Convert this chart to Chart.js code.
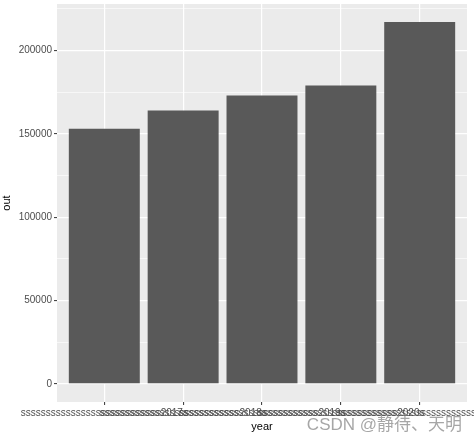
<!DOCTYPE html>
<html lang="en">
<head>
    <meta charset="UTF-8">
    <title>out by year</title>
    <script src="https://cdn.jsdelivr.net/npm/chart.js"></script>
    <style>
        body { margin: 0; background: #ffffff; }
        .chart-container { width: 474px; height: 440px; position: relative; }
    </style>
</head>
<body>
    <div class="chart-container">
        <canvas id="outChart"></canvas>
    </div>

    <script>
        // Data
        const years = ['2017', '2018', '2019', '2020', '2021'];
        const outValues = [153000, 164000, 173000, 179000, 217000];
        const tickLabels = years.map(y => 'ssssssssssssssssssssssssssss' + y + 's');
        const yTickValues = [0, 25000, 50000, 75000, 100000, 125000, 150000, 175000, 200000, 225000];

        const yMax = Math.max(...outValues);
        const yPad = yMax * 0.05;

        // grey ggplot panel behind the grid
        const panelBackground = {
            id: 'panelBackground',
            beforeDraw(chart) {
                const {ctx, chartArea} = chart;
                ctx.save();
                ctx.fillStyle = '#EBEBEB';
                ctx.fillRect(chartArea.left, chartArea.top, chartArea.right - chartArea.left, chartArea.bottom - chartArea.top);
                ctx.restore();
            }
        };

        // watermark text in the bottom right corner
        const watermark = {
            id: 'watermark',
            afterDraw(chart) {
                const ctx = chart.ctx;
                ctx.save();
                ctx.font = '17px "Liberation Sans", Arial, "Noto Sans CJK SC"';
                ctx.fillStyle = 'rgba(150, 150, 150, 0.85)';
                ctx.textAlign = 'right';
                ctx.textBaseline = 'middle';
                ctx.fillText('CSDN @静待、天明', 462, 425);
                ctx.restore();
            }
        };

        const tickFont = { family: '"Liberation Sans", Arial', size: 10 };
        const titleFont = { family: '"Liberation Sans", Arial', size: 11 };

        const ctx = document.getElementById('outChart').getContext('2d');
        const outChart = new Chart(ctx, {
            type: 'bar',
            data: {
                datasets: [{
                    label: 'out',
                    data: outValues.map((v, i) => ({ x: i + 1, y: v })),
                    backgroundColor: '#595959',
                    borderWidth: 0,
                    barPercentage: 0.9,
                    categoryPercentage: 1.0
                }]
            },
            options: {
                responsive: true,
                maintainAspectRatio: false,
                animation: false,
                layout: { padding: { top: 4, right: 7, left: 0, bottom: 0 } },
                plugins: {
                    legend: { display: false },
                    tooltip: { enabled: false }
                },
                scales: {
                    x: {
                        type: 'linear',
                        offset: false,
                        min: 0.4,
                        max: 5.6,
                        afterBuildTicks: (scale) => {
                            scale.ticks = years.map((y, i) => ({ value: i + 1 }));
                        },
                        afterFit: (scale) => {
                            scale.height = 38;
                            scale.paddingLeft = 0;
                            scale.paddingRight = 0;
                        },
                        ticks: {
                            autoSkip: false,
                            maxRotation: 0,
                            minRotation: 0,
                            padding: 2,
                            color: '#4D4D4D',
                            font: tickFont,
                            callback: (v) => tickLabels[v - 1]
                        },
                        grid: {
                            offset: false,
                            color: '#FFFFFF',
                            lineWidth: 1.2,
                            tickColor: '#333333',
                            tickWidth: 1,
                            tickLength: 3
                        },
                        border: { display: false },
                        title: {
                            display: true,
                            text: 'year',
                            color: '#000000',
                            font: titleFont,
                            padding: { top: 0, bottom: 6 }
                        }
                    },
                    y: {
                        min: -yPad,
                        max: yMax + yPad,
                        afterBuildTicks: (scale) => {
                            scale.ticks = yTickValues.map(v => ({ value: v }));
                        },
                        afterFit: (scale) => {
                            scale.width = 57;
                            scale.paddingTop = 0;
                            scale.paddingBottom = 0;
                        },
                        ticks: {
                            padding: 2,
                            color: '#4D4D4D',
                            font: tickFont,
                            callback: (v) => (v % 50000 === 0 ? String(v) : '')
                        },
                        grid: {
                            color: '#FFFFFF',
                            lineWidth: (c) => (c.tick && c.tick.value % 50000 === 0 ? 1.2 : 0.6),
                            tickColor: (c) => (c.tick && c.tick.value % 50000 === 0 ? '#333333' : 'rgba(0,0,0,0)'),
                            tickWidth: 1,
                            tickLength: 3
                        },
                        border: { display: false },
                        title: {
                            display: true,
                            text: 'out',
                            color: '#000000',
                            font: titleFont,
                            padding: { top: 0, bottom: 0 }
                        }
                    }
                }
            },
            plugins: [panelBackground, watermark]
        });
    </script>
</body>
</html>
